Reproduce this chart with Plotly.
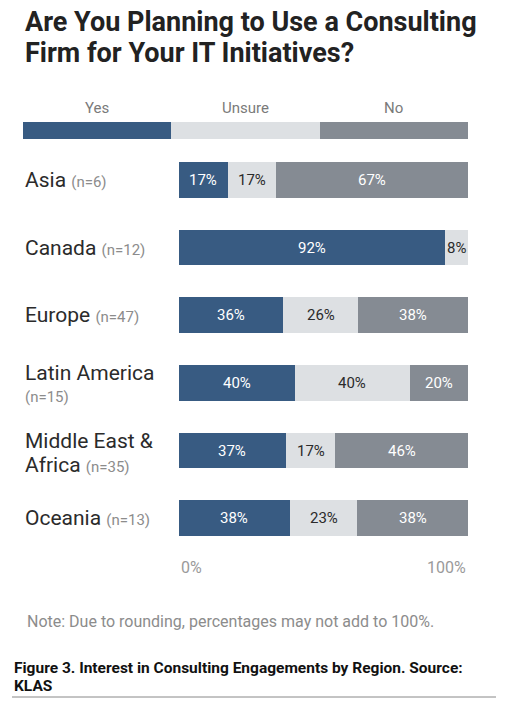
import plotly.graph_objects as go

regions = ["Asia", "Canada", "Europe", "Latin America", "Middle East & Africa", "Oceania"]
region_lines = ["Asia", "Canada", "Europe", "Latin America<br>", "Middle East &<br>Africa", "Oceania"]
n_sizes = [6, 12, 47, 15, 35, 13]
yes = [17, 92, 36, 40, 37, 38]
unsure = [17, 8, 26, 40, 17, 23]
no = [67, 0, 38, 20, 46, 38]

series_names = ["Yes", "Unsure", "No"]
series_colors = ["#385b82", "#dde0e3", "#858b93"]
text_colors = ["white", "#2b2b2b", "white"]

title_lines = ["Are You Planning to Use a Consulting", "Firm for Your IT Initiatives?"]
caption_lines = ["Figure 3. Interest in Consulting Engagements by Region. Source:", "KLAS"]
note = "Note: Due to rounding, percentages may not add to 100%."

FONT = "Roboto"
W, H = 507, 707
L, R = 23, 468
PLOT_L = 179


def py(y):
    return 1 - y / H


def px(x):
    return (x - L) / (R - L)


fig = go.Figure()
annotations = []

# main stacked bars, scaled so each row fills the full width
totals = [a + b + c for a, b, c in zip(yes, unsure, no)]
starts = [0] * len(regions)
for name, vals, col, tcol in zip(series_names, [yes, unsure, no], series_colors, text_colors):
    widths = [v / t * 100 for v, t in zip(vals, totals)]
    fig.add_trace(go.Bar(
        y=regions, x=widths, orientation="h", name=name,
        marker=dict(color=col, line=dict(width=0)),
        width=0.53, hoverinfo="skip", showlegend=False, xaxis="x", yaxis="y",
    ))
    for reg, v, w, s in zip(regions, vals, widths, starts):
        if v > 0:
            annotations.append(dict(
                x=s + w / 2, y=reg, xref="x", yref="y", text=f"{v}%", showarrow=False,
                font=dict(family=FONT, size=15, color=tcol), xanchor="center", yanchor="middle",
            ))
    starts = [s + w for s, w in zip(starts, widths)]

# legend bar at the top
for name, col in zip(series_names, series_colors):
    fig.add_trace(go.Bar(
        y=["legend"], x=[1], orientation="h", marker=dict(color=col, line=dict(width=0)),
        width=1, hoverinfo="skip", showlegend=False, xaxis="x2", yaxis="y2",
    ))

for i, name in enumerate(series_names):
    annotations.append(dict(
        x=i + 0.5, y=py(108), xref="x2", yref="paper", text=name, showarrow=False,
        font=dict(family=FONT, size=15, color="#7a7a7a"), xanchor="center", yanchor="middle",
    ))

# region labels, one annotation per line
for reg, label, n in zip(regions, region_lines, n_sizes):
    parts = label.split("<br>")
    small = f"<span style='font-size:15px;color:#8c8c8c'>(n={n})</span>"
    parts[-1] = (parts[-1] + " " + small) if parts[-1] else small
    shifts = [0] if len(parts) == 1 else [10, -14]
    for part, sh in zip(parts, shifts):
        annotations.append(dict(
            x=0, y=reg, xref="paper", yref="y", showarrow=False, align="left",
            xanchor="left", yanchor="middle", yshift=sh, text=part,
            font=dict(family=FONT, size=21, color="#2b2b2b"),
        ))

annotations += [
    dict(x=0, y=py(567), xref="x", yref="paper", text="0%", showarrow=False,
         xanchor="left", yanchor="middle", font=dict(family=FONT, size=16, color="#9a9a9a")),
    dict(x=100, y=py(567), xref="x", yref="paper", text="100%", showarrow=False,
         xanchor="right", yanchor="middle", font=dict(family=FONT, size=16, color="#9a9a9a")),
    dict(x=px(25), y=py(621), xref="paper", yref="paper", showarrow=False, text=note,
         xanchor="left", yanchor="middle", font=dict(family=FONT, size=16, color="#8c8c8c")),
]
for line, y in zip(caption_lines, [668, 686]):
    annotations.append(dict(
        x=px(12), y=py(y), xref="paper", yref="paper", showarrow=False, text=f"<b>{line}</b>",
        xanchor="left", yanchor="middle", font=dict(family=FONT, size=15.5, color="#111111")))
for line, y in zip(title_lines, [22, 53]):
    annotations.append(dict(
        x=0, y=py(y), xref="paper", yref="paper", showarrow=False, text=f"<b>{line}</b>",
        xanchor="left", yanchor="middle", font=dict(family=FONT, size=27, color="#222222")))

fig.update_layout(
    width=W, height=H, barmode="stack", bargap=0,
    margin=dict(l=L, r=W - R, t=0, b=0),
    paper_bgcolor="white", plot_bgcolor="white",
    xaxis=dict(domain=[px(PLOT_L), 1], range=[0, 100], visible=False, fixedrange=True),
    yaxis=dict(domain=[py(552), py(146)], autorange="reversed", visible=False,
               categoryorder="array", categoryarray=regions),
    xaxis2=dict(domain=[0, 1], range=[0, 3], visible=False, anchor="y2"),
    yaxis2=dict(domain=[py(139), py(122)], visible=False, anchor="x2"),
    annotations=annotations,
    shapes=[dict(type="line", xref="paper", yref="paper", x0=px(12), x1=px(496),
                 y0=py(697), y1=py(697), line=dict(color="#888888", width=1))],
)

fig.write_html("out.html", config={"displayModeBar": False},
               post_script="document.body.style.margin='0';")
